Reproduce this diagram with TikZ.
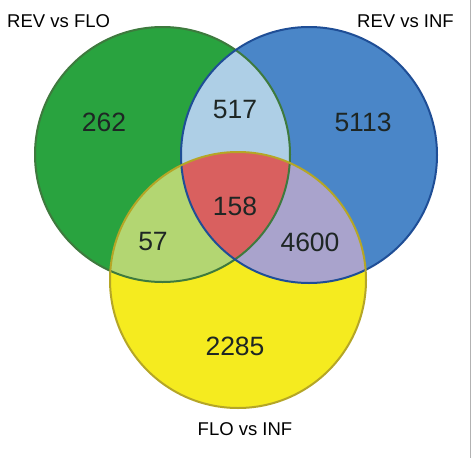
\documentclass[tikz,border=0pt]{standalone}
\usepackage{fontspec}
\setmainfont{Liberation Sans}
\definecolor{cgreen}{HTML}{29A33F}
\definecolor{cblue}{HTML}{4A86C8}
\definecolor{cyellow}{HTML}{F5EB1F}
\definecolor{cgb}{HTML}{AECFE6}
\definecolor{cgy}{HTML}{B3D672}
\definecolor{cby}{HTML}{A9A3CC}
\definecolor{cgby}{HTML}{D9605F}
\definecolor{lgreen}{HTML}{3E7A3E}
\definecolor{lblue}{HTML}{1F4E96}
\definecolor{lyellow}{HTML}{B5A626}
\definecolor{numtxt}{HTML}{1E2624}
\begin{document}
\begin{tikzpicture}[x=1pt,y=-1pt,
  num/.style={font=\fontsize{26.5}{30}\selectfont, text=numtxt, inner sep=0pt},
  lab/.style={font=\fontsize{18.5}{22}\selectfont, text=black, inner sep=0pt, anchor=base}]
\useasboundingbox (0,0) rectangle (474,458);
\fill[white] (0,0) rectangle (474,458);
\def\G{(162.5,154.5) circle[radius=127.5]}
\def\B{(309,155) circle[radius=128]}
\def\Y{(238,280) circle[radius=128]}
\fill[cgreen] \G;
\fill[cblue] \B;
\fill[cyellow] \Y;
\begin{scope}\clip \G; \fill[cgb] \B; \fill[cgy] \Y; \end{scope}
\begin{scope}\clip \B; \fill[cby] \Y; \end{scope}
\begin{scope}\clip \G; \clip \B; \fill[cgby] \Y; \end{scope}
\draw[lgreen, line width=2pt] \G;
\draw[lblue, line width=2pt] \B;
\draw[lyellow, line width=2pt] \Y;
\draw[black!30, line width=1.5pt] (470.5,0) -- (470.5,458);
\node[num] (n262) at (104,122) {262};
\node[num] (n517) at (235,110) {517};
\node[num] (n5113) at (363,122) {5113};
\node[num] (n158) at (235,206) {158};
\node[num] (n57) at (153,242) {57};
\node[num] (n4600) at (310,242) {4600};
\node[num] (n2285) at (235,346) {2285};
\node[lab, anchor=base west] (lrf) at (7,27) {REV vs FLO};
\node[lab, anchor=base east] (lri) at (454,27) {REV vs INF};
\node[lab, anchor=base] (lfi) at (245,435) {FLO vs INF};
\end{tikzpicture}
\end{document}
